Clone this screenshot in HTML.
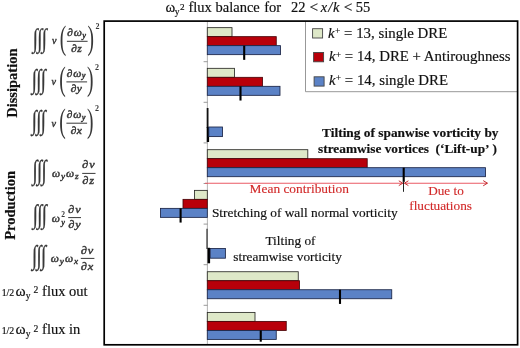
<!DOCTYPE html>
<html lang="en"><head><meta charset="utf-8"><title>Flux balance</title>
<style>html,body{margin:0;padding:0;background:#fff;}svg{display:block;}text{font-family:"Liberation Serif","DejaVu Serif",serif;}</style></head><body>
<svg width="520" height="348" viewBox="0 0 520 348">
<rect x="0" y="0" width="520" height="348" fill="#fff"/>
<line x1="207.4" y1="21" x2="207.4" y2="345" stroke="#a0a0a0" stroke-width="0.8"/>
<line x1="203.6" y1="61.70" x2="207.6" y2="61.70" stroke="#8e8e8e" stroke-width="0.9"/>
<line x1="203.6" y1="102.30" x2="207.6" y2="102.30" stroke="#8e8e8e" stroke-width="0.9"/>
<line x1="203.6" y1="142.90" x2="207.6" y2="142.90" stroke="#8e8e8e" stroke-width="0.9"/>
<line x1="203.6" y1="183.50" x2="207.6" y2="183.50" stroke="#8e8e8e" stroke-width="0.9"/>
<line x1="203.6" y1="224.10" x2="207.6" y2="224.10" stroke="#8e8e8e" stroke-width="0.9"/>
<line x1="203.6" y1="264.70" x2="207.6" y2="264.70" stroke="#8e8e8e" stroke-width="0.9"/>
<line x1="203.6" y1="305.30" x2="207.6" y2="305.30" stroke="#8e8e8e" stroke-width="0.9"/>
<rect x="207.30" y="27.65" width="24.70" height="9.00" fill="#DEE8C8" stroke="#2a2a26" stroke-width="0.85"/>
<rect x="207.30" y="36.65" width="68.95" height="9.00" fill="#B8000A" stroke="#4a0408" stroke-width="0.85"/>
<rect x="207.30" y="45.65" width="73.20" height="9.00" fill="#5B82C6" stroke="#1a2446" stroke-width="0.85"/>
<line x1="244.2" y1="45.65" x2="244.2" y2="59.85" stroke="#000" stroke-width="2.1"/>
<rect x="207.30" y="68.33" width="27.20" height="9.00" fill="#DEE8C8" stroke="#2a2a26" stroke-width="0.85"/>
<rect x="207.30" y="77.33" width="55.20" height="9.00" fill="#B8000A" stroke="#4a0408" stroke-width="0.85"/>
<rect x="207.30" y="86.33" width="72.70" height="9.00" fill="#5B82C6" stroke="#1a2446" stroke-width="0.85"/>
<line x1="240.5" y1="86.33" x2="240.5" y2="100.53" stroke="#000" stroke-width="2.1"/>
<line x1="207.6" y1="108" x2="207.6" y2="128" stroke="#111" stroke-width="1.8"/>
<line x1="207.9" y1="126.9" x2="207.9" y2="142" stroke="#000" stroke-width="2.4"/>
<rect x="208.80" y="127.00" width="13.70" height="9.60" fill="#5B82C6" stroke="#1a2446" stroke-width="0.85"/>
<rect x="207.30" y="149.69" width="100.50" height="9.00" fill="#DEE8C8" stroke="#2a2a26" stroke-width="0.85"/>
<rect x="207.30" y="158.69" width="159.90" height="9.00" fill="#B8000A" stroke="#4a0408" stroke-width="0.85"/>
<rect x="207.30" y="167.69" width="278.20" height="9.00" fill="#5B82C6" stroke="#1a2446" stroke-width="0.85"/>
<line x1="403.7" y1="167.69" x2="403.7" y2="181.89" stroke="#000" stroke-width="2.1"/>
<rect x="194.50" y="190.37" width="12.80" height="9.00" fill="#DEE8C8" stroke="#2a2a26" stroke-width="0.85"/>
<rect x="183.00" y="199.37" width="24.30" height="9.00" fill="#B8000A" stroke="#4a0408" stroke-width="0.85"/>
<rect x="160.50" y="208.37" width="46.80" height="9.00" fill="#5B82C6" stroke="#1a2446" stroke-width="0.85"/>
<line x1="180.6" y1="208.37" x2="180.6" y2="222.57" stroke="#000" stroke-width="2.1"/>
<line x1="207.0" y1="228.8" x2="207.0" y2="249" stroke="#222" stroke-width="1.1"/>
<line x1="208.8" y1="247.8" x2="208.8" y2="263.3" stroke="#000" stroke-width="2.6"/>
<rect x="210.20" y="248.50" width="15.20" height="9.70" fill="#5B82C6" stroke="#1a2446" stroke-width="0.85"/>
<rect x="207.30" y="271.73" width="90.95" height="9.00" fill="#DEE8C8" stroke="#2a2a26" stroke-width="0.85"/>
<rect x="207.30" y="280.73" width="92.20" height="9.00" fill="#B8000A" stroke="#4a0408" stroke-width="0.85"/>
<rect x="207.30" y="289.73" width="184.45" height="9.00" fill="#5B82C6" stroke="#1a2446" stroke-width="0.85"/>
<line x1="340" y1="289.73" x2="340" y2="303.93" stroke="#000" stroke-width="2.1"/>
<rect x="207.30" y="312.41" width="47.70" height="9.00" fill="#DEE8C8" stroke="#2a2a26" stroke-width="0.85"/>
<rect x="207.30" y="321.41" width="78.95" height="9.00" fill="#B8000A" stroke="#4a0408" stroke-width="0.85"/>
<rect x="207.30" y="330.41" width="68.95" height="9.00" fill="#5B82C6" stroke="#1a2446" stroke-width="0.85"/>
<line x1="260.75" y1="330.41" x2="260.75" y2="341.70" stroke="#000" stroke-width="2.1"/>
<rect x="305.5" y="21.6" width="212" height="70.1" fill="#fff"/>
<path d="M305.5 21.5 V91.7 H517.5" fill="none" stroke="#8c8c8c" stroke-width="0.9"/>
<rect x="104.2" y="21.1" width="413.4" height="323.7" fill="none" stroke="#000" stroke-width="1.7"/>
<rect x="312.6" y="28.7" width="10" height="9.3" fill="#DEE8C8" stroke="#444" stroke-width="0.9"/>
<rect x="313.6" y="52.5" width="10" height="9.3" fill="#B8000A" stroke="#444" stroke-width="0.9"/>
<rect x="314.1" y="76.8" width="10" height="9.3" fill="#5B82C6" stroke="#444" stroke-width="0.9"/>
<text x="328.1" y="37.5" font-size="14.85" fill="#111" stroke="#111" stroke-width="0.17"><tspan font-style="italic">k</tspan><tspan font-size="9.5" dy="-3.8" dx="0.3">+</tspan><tspan dy="3.8"> = 13, single DRE</tspan></text>
<text x="328.9" y="61.4" font-size="14.85" fill="#111" stroke="#111" stroke-width="0.17"><tspan font-style="italic">k</tspan><tspan font-size="9.5" dy="-3.8" dx="0.3">+</tspan><tspan dy="3.8"> = 14, DRE + Antiroughness</tspan></text>
<text x="328.9" y="84.9" font-size="14.85" fill="#111" stroke="#111" stroke-width="0.17"><tspan font-style="italic">k</tspan><tspan font-size="9.5" dy="-3.8" dx="0.3">+</tspan><tspan dy="3.8"> = 14, single DRE</tspan></text>
<text y="12.3" font-size="14.5" fill="#111" stroke="#111" stroke-width="0.17"><tspan x="165.4" font-size="14.8">ω</tspan><tspan x="174.7" y="14.8" font-size="9.5">y</tspan><tspan x="180.0" y="10.2" font-size="9.2">2</tspan><tspan x="188.5" y="12.3">flux balance</tspan><tspan x="264.2">for</tspan><tspan x="291">22</tspan><tspan x="309.4" font-size="15.2">&lt;</tspan><tspan x="320.8" font-style="italic" letter-spacing="0.9">x/k</tspan><tspan x="343.7" font-size="15.2">&lt;</tspan><tspan x="355.7">55</tspan></text>
<text x="322.1" y="137.2" font-size="13.36" font-weight="bold" fill="#111" stroke="#111" stroke-width="0.17">Tilting of spanwise vorticity by</text>
<text y="152.5" font-size="13.3" font-weight="bold" fill="#111" stroke="#111" stroke-width="0.17"><tspan x="318.1">streamwise vortices</tspan><tspan x="435.6">(‘Lift-up’</tspan><tspan x="492.6">)</tspan></text>
<text x="211.9" y="217.4" font-size="13.38" fill="#111" stroke="#111" stroke-width="0.17">Stretching of wall normal vorticity</text>
<text x="265.4" y="245.1" font-size="13.3" fill="#111" stroke="#111" stroke-width="0.17">Tilting of</text>
<text y="260.5" font-size="13.3" fill="#111" stroke="#111" stroke-width="0.17"><tspan x="233.3">streamwise</tspan><tspan x="296.8">vorticity</tspan></text>
<text x="249.6" y="193.1" font-size="13.4" fill="#D22B2B" stroke="#D22B2B" stroke-width="0.14">Mean contribution</text>
<text x="446" y="194.8" font-size="13.2" fill="#D22B2B" stroke="#D22B2B" stroke-width="0.14" text-anchor="middle">Due to</text>
<text x="440.6" y="209.5" font-size="13.3" fill="#D22B2B" stroke="#D22B2B" stroke-width="0.14" text-anchor="middle">fluctuations</text>
<g stroke="#EA5A64" stroke-width="1.1" fill="none"><line x1="205" y1="183.2" x2="402.5" y2="183.2"/><line x1="404.6" y1="183.2" x2="487.5" y2="183.2"/></g>
<g stroke="#B8181C" stroke-width="0.9" fill="none"><path d="M398.8 180.8 L402.8 183.2 L398.8 185.6"/><path d="M408.4 180.8 L404.4 183.2 L408.4 185.6"/><path d="M483.2 180.6 L487.4 183.2 L483.2 185.8"/></g>
<line x1="403.5" y1="181" x2="403.5" y2="191.8" stroke="#222" stroke-width="1"/>
<text transform="translate(16.5,117.8) rotate(-90)" font-size="14.5" font-weight="bold" fill="#111" stroke="#111" stroke-width="0.17">Dissipation</text>
<text transform="translate(14.7,239.8) rotate(-90)" font-size="14.45" font-weight="bold" fill="#111" stroke="#111" stroke-width="0.17">Production</text>
<text transform="translate(32.38,46.76) scale(1.3,1.762)" font-size="15" fill="#383838" stroke="#383838" stroke-width="0.15">∫</text>
<text transform="translate(36.88,46.76) scale(1.3,1.762)" font-size="15" fill="#383838" stroke="#383838" stroke-width="0.15">∫</text>
<text transform="translate(41.38,46.76) scale(1.3,1.762)" font-size="15" fill="#383838" stroke="#383838" stroke-width="0.15">∫</text>
<text transform="translate(52.0,43.7) scale(1.0,1)" font-size="10.2" font-style="italic" fill="#383838" stroke="#383838" stroke-width="0.45" text-anchor="start">ν</text>
<text transform="translate(59.82,48.99) scale(1.3,2.193)" font-size="15" fill="#383838">(</text>
<text transform="translate(67.3,36.199999999999996) scale(1.1,1)" font-size="10.5" font-style="italic" fill="#383838" stroke="#383838" stroke-width="0.45" text-anchor="start">∂<tspan dx="0.6">ω</tspan><tspan font-size="7.6" dy="1.5" dx="0.3">y</tspan></text>
<line x1="66.9" y1="41.3" x2="87.6" y2="41.3" stroke="#383838" stroke-width="1"/>
<text transform="translate(71.2,51.8) scale(1.1,1)" font-size="10.5" font-style="italic" fill="#383838" stroke="#383838" stroke-width="0.45" text-anchor="start">∂<tspan dx="0.4">z</tspan></text>
<text transform="translate(87.62,48.99) scale(1.3,2.193)" font-size="15" fill="#383838">)</text>
<text x="95.4" y="29.0" font-size="8" font-weight="bold" fill="#383838">2</text>
<text transform="translate(31.38,87.85) scale(1.3,1.789)" font-size="15" fill="#383838" stroke="#383838" stroke-width="0.15">∫</text>
<text transform="translate(35.88,87.85) scale(1.3,1.789)" font-size="15" fill="#383838" stroke="#383838" stroke-width="0.15">∫</text>
<text transform="translate(40.38,87.85) scale(1.3,1.789)" font-size="15" fill="#383838" stroke="#383838" stroke-width="0.15">∫</text>
<text transform="translate(51.5,85.3) scale(1.0,1)" font-size="10.2" font-style="italic" fill="#383838" stroke="#383838" stroke-width="0.45" text-anchor="start">ν</text>
<text transform="translate(59.32,89.85) scale(1.3,2.237)" font-size="15" fill="#383838">(</text>
<text transform="translate(66.8,76.80000000000001) scale(1.1,1)" font-size="10.5" font-style="italic" fill="#383838" stroke="#383838" stroke-width="0.45" text-anchor="start">∂<tspan dx="0.6">ω</tspan><tspan font-size="7.6" dy="1.5" dx="0.3">y</tspan></text>
<line x1="66.4" y1="81.9" x2="87.1" y2="81.9" stroke="#383838" stroke-width="1"/>
<text transform="translate(70.7,92.4) scale(1.1,1)" font-size="10.5" font-style="italic" fill="#383838" stroke="#383838" stroke-width="0.45" text-anchor="start">∂<tspan dx="0.4">y</tspan></text>
<text transform="translate(87.12,89.85) scale(1.3,2.237)" font-size="15" fill="#383838">)</text>
<text x="94.9" y="70.0" font-size="8" font-weight="bold" fill="#383838">2</text>
<text transform="translate(31.38,129.05) scale(1.3,1.789)" font-size="15" fill="#383838" stroke="#383838" stroke-width="0.15">∫</text>
<text transform="translate(35.88,129.05) scale(1.3,1.789)" font-size="15" fill="#383838" stroke="#383838" stroke-width="0.15">∫</text>
<text transform="translate(40.38,129.05) scale(1.3,1.789)" font-size="15" fill="#383838" stroke="#383838" stroke-width="0.15">∫</text>
<text transform="translate(51.5,126.5) scale(1.0,1)" font-size="10.2" font-style="italic" fill="#383838" stroke="#383838" stroke-width="0.45" text-anchor="start">ν</text>
<text transform="translate(59.32,131.54) scale(1.3,2.178)" font-size="15" fill="#383838">(</text>
<text transform="translate(66.8,118.10000000000001) scale(1.1,1)" font-size="10.5" font-style="italic" fill="#383838" stroke="#383838" stroke-width="0.45" text-anchor="start">∂<tspan dx="0.6">ω</tspan><tspan font-size="7.6" dy="1.5" dx="0.3">y</tspan></text>
<line x1="66.4" y1="123.2" x2="87.1" y2="123.2" stroke="#383838" stroke-width="1"/>
<text transform="translate(70.7,133.7) scale(1.1,1)" font-size="10.5" font-style="italic" fill="#383838" stroke="#383838" stroke-width="0.45" text-anchor="start">∂<tspan dx="0.4">x</tspan></text>
<text transform="translate(87.12,131.54) scale(1.3,2.178)" font-size="15" fill="#383838">)</text>
<text x="94.9" y="111.2" font-size="8" font-weight="bold" fill="#383838">2</text>
<text transform="translate(32.17,179.34) scale(1.3,1.816)" font-size="15" fill="#383838" stroke="#383838" stroke-width="0.15">∫</text>
<text transform="translate(36.68,179.34) scale(1.3,1.816)" font-size="15" fill="#383838" stroke="#383838" stroke-width="0.15">∫</text>
<text transform="translate(41.18,179.34) scale(1.3,1.816)" font-size="15" fill="#383838" stroke="#383838" stroke-width="0.15">∫</text>
<text transform="translate(51.9,176.7) scale(1.1,1)" font-size="10.5" font-style="italic" fill="#383838" stroke="#383838" stroke-width="0.45" text-anchor="start">ω</text>
<text transform="translate(60.9,178.9) scale(1.0,1)" font-size="9.2" font-style="italic" fill="#383838" stroke="#383838" stroke-width="0.45" text-anchor="start">y</text>
<text transform="translate(66.0,176.7) scale(1.1,1)" font-size="10.5" font-style="italic" fill="#383838" stroke="#383838" stroke-width="0.45" text-anchor="start">ω</text>
<text transform="translate(75.0,178.9) scale(1.0,1)" font-size="9.2" font-style="italic" fill="#383838" stroke="#383838" stroke-width="0.45" text-anchor="start">z</text>
<text transform="translate(82.3,167.9) scale(1.1,1)" font-size="11.2" font-style="italic" fill="#383838" stroke="#383838" stroke-width="0.45" text-anchor="start">∂<tspan dx="0.7">v</tspan></text>
<line x1="82.2" y1="173.4" x2="95.5" y2="173.4" stroke="#383838" stroke-width="1"/>
<text transform="translate(82.5,184.3) scale(1.1,1)" font-size="11.2" font-style="italic" fill="#383838" stroke="#383838" stroke-width="0.45" text-anchor="start">∂<tspan dx="0.5">z</tspan></text>
<text transform="translate(32.38,223.34) scale(1.3,1.769)" font-size="15" fill="#383838" stroke="#383838" stroke-width="0.15">∫</text>
<text transform="translate(36.88,223.34) scale(1.3,1.769)" font-size="15" fill="#383838" stroke="#383838" stroke-width="0.15">∫</text>
<text transform="translate(41.38,223.34) scale(1.3,1.769)" font-size="15" fill="#383838" stroke="#383838" stroke-width="0.15">∫</text>
<text transform="translate(51.7,222.3) scale(1.1,1)" font-size="10.5" font-style="italic" fill="#383838" stroke="#383838" stroke-width="0.45" text-anchor="start">ω</text>
<text x="61.2" y="216.6" font-size="7.5" font-weight="bold" fill="#383838">2</text>
<text transform="translate(61.2,225.2) scale(1.0,1)" font-size="8.2" font-style="italic" fill="#383838" stroke="#383838" stroke-width="0.45" text-anchor="start">y</text>
<text transform="translate(68.3,213.2) scale(1.1,1)" font-size="11.2" font-style="italic" fill="#383838" stroke="#383838" stroke-width="0.45" text-anchor="start">∂<tspan dx="0.7">v</tspan></text>
<line x1="68.2" y1="217.6" x2="81.0" y2="217.6" stroke="#383838" stroke-width="1"/>
<text transform="translate(68.5,228.0) scale(1.1,1)" font-size="11.2" font-style="italic" fill="#383838" stroke="#383838" stroke-width="0.45" text-anchor="start">∂<tspan dx="0.5">y</tspan></text>
<text transform="translate(31.68,264.25) scale(1.3,1.789)" font-size="15" fill="#383838" stroke="#383838" stroke-width="0.15">∫</text>
<text transform="translate(36.18,264.25) scale(1.3,1.789)" font-size="15" fill="#383838" stroke="#383838" stroke-width="0.15">∫</text>
<text transform="translate(40.68,264.25) scale(1.3,1.789)" font-size="15" fill="#383838" stroke="#383838" stroke-width="0.15">∫</text>
<text transform="translate(50.8,262) scale(1.1,1)" font-size="10.5" font-style="italic" fill="#383838" stroke="#383838" stroke-width="0.45" text-anchor="start">ω</text>
<text transform="translate(59.8,264.2) scale(1.0,1)" font-size="9.2" font-style="italic" fill="#383838" stroke="#383838" stroke-width="0.45" text-anchor="start">y</text>
<text transform="translate(64.9,262) scale(1.1,1)" font-size="10.5" font-style="italic" fill="#383838" stroke="#383838" stroke-width="0.45" text-anchor="start">ω</text>
<text transform="translate(73.9,264.2) scale(1.0,1)" font-size="9.2" font-style="italic" fill="#383838" stroke="#383838" stroke-width="0.45" text-anchor="start">x</text>
<text transform="translate(80.89999999999999,253.6) scale(1.1,1)" font-size="11.2" font-style="italic" fill="#383838" stroke="#383838" stroke-width="0.45" text-anchor="start">∂<tspan dx="0.7">v</tspan></text>
<line x1="80.8" y1="258.4" x2="94.4" y2="258.4" stroke="#383838" stroke-width="1"/>
<text transform="translate(81.1,269.9) scale(1.1,1)" font-size="11.2" font-style="italic" fill="#383838" stroke="#383838" stroke-width="0.45" text-anchor="start">∂<tspan dx="0.5">x</tspan></text>
<text y="296.0" fill="#111" stroke="#111" stroke-width="0.17"><tspan x="1.7" font-size="9.8">1/2</tspan><tspan x="15.6" font-size="15.4">ω</tspan><tspan x="25.7" y="299.0" font-size="9.5">y</tspan><tspan x="33.6" y="293.2" font-size="9.6">2</tspan><tspan x="42.1" y="296.0" font-size="14.5">flux out</tspan></text>
<text y="334.3" fill="#111" stroke="#111" stroke-width="0.17"><tspan x="1.7" font-size="9.8">1/2</tspan><tspan x="15.6" font-size="15.4">ω</tspan><tspan x="25.7" y="337.3" font-size="9.5">y</tspan><tspan x="33.6" y="331.5" font-size="9.6">2</tspan><tspan x="42.1" y="334.3" font-size="14.5">flux in</tspan></text>
</svg></body></html>
